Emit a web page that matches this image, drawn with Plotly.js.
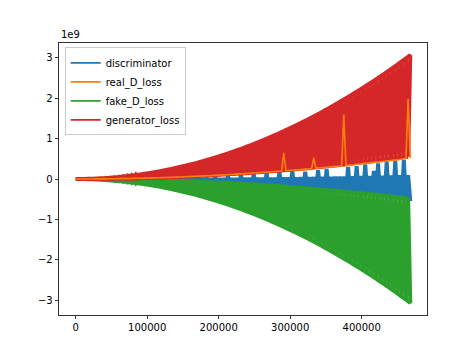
<!DOCTYPE html>
<html><head><meta charset="utf-8">
<script src="https://cdn.plot.ly/plotly-3.0.1.min.js"></script>
<style>html,body{margin:0;padding:0;background:#fff}#chart{width:474px;height:355px}</style>
</head><body><div id="chart"></div>
<script>
// iteration step between logged samples
const stepSize = 3000;

// values in units of 1e9 (each series swings between a low and a high every sample)
const discriminator = [0, 0, 0, 0, 0, 0, -0.001, 0, -0.001, 0,
 -0.002, 0, -0.003, 0.001, -0.004, 0.001, -0.006, 0.001, -0.007, 0.001,
 -0.009, 0.002, -0.011, 0.002, -0.013, 0.003, -0.015, 0.003, -0.018, 0.003,
 -0.02, 0.004, -0.023, 0.004, -0.026, 0.005, -0.029, 0.006, -0.032, 0.006,
 -0.036, 0.007, -0.04, 0.008, -0.044, 0.008, -0.048, 0.009, -0.052, 0.01,
 -0.056, 0.011, -0.061, 0.012, -0.066, 0.012, -0.071, 0.013, -0.076, 0.014,
 -0.081, 0.03, -0.086, 0.016, -0.092, 0.05, -0.098, 0.018, -0.104, 0.02,
 -0.11, 0.07, -0.117, 0.022, -0.123, 0.023, -0.13, 0.1, -0.137, 0.026,
 -0.144, 0.027, -0.151, 0.12, -0.159, 0.03, -0.166, 0.031, -0.174, 0.14,
 -0.182, 0.034, -0.19, 0.035, -0.199, 0.17, -0.207, 0.039, -0.216, 0.04,
 -0.225, 0.19, -0.234, 0.043, -0.243, 0.045, -0.253, 0.18, -0.262, 0.049,
 -0.272, 0.051, -0.282, 0.22, -0.292, 0.054, -0.303, 0.25, -0.313, 0.058,
 -0.324, 0.06, -0.335, 0.062, -0.346, 0.064, -0.357, 0.3, -0.369, 0.068,
 -0.38, 0.32, -0.392, 0.073, -0.404, 0.36, -0.416, 0.077, -0.428, 0.2,
 -0.441, 0.39, -0.454, 0.084, -0.467, 0.43, -0.48, 0.089, -0.493, 0.45,
 -0.506, 0.093, -0.52, 0.47, -0.534, 0.098, -0.548];

const realDLoss = [0, 0, 0, 0, 0, 0.001, 0.001, 0.001, 0.001, 0.002,
 0.002, 0.003, 0.003, 0.004, 0.004, 0.005, 0.005, 0.006, 0.007, 0.008,
 0.009, 0.009, 0.01, 0.011, 0.012, 0.013, 0.014, 0.016, 0.017, 0.018,
 0.019, 0.02, 0.022, 0.023, 0.025, 0.026, 0.028, 0.029, 0.031, 0.032,
 0.034, 0.036, 0.038, 0.039, 0.041, 0.043, 0.045, 0.047, 0.049, 0.051,
 0.053, 0.055, 0.058, 0.06, 0.062, 0.064, 0.067, 0.069, 0.072, 0.074,
 0.077, 0.079, 0.082, 0.084, 0.087, 0.09, 0.093, 0.096, 0.098, 0.101,
 0.104, 0.107, 0.11, 0.113, 0.117, 0.12, 0.123, 0.126, 0.129, 0.133,
 0.136, 0.14, 0.143, 0.147, 0.15, 0.154, 0.157, 0.161, 0.165, 0.169,
 0.172, 0.176, 0.18, 0.184, 0.188, 0.192, 0.196, 0.65, 0.204, 0.209,
 0.213, 0.217, 0.221, 0.226, 0.23, 0.235, 0.239, 0.244, 0.248, 0.253,
 0.257, 0.53, 0.267, 0.272, 0.277, 0.281, 0.286, 0.291, 0.296, 0.301,
 0.306, 0.312, 0.317, 0.322, 0.327, 1.6, 0.338, 0.343, 0.349, 0.354,
 0.36, 0.365, 0.371, 0.376, 0.382, 0.388, 0.394, 0.399, 0.405, 0.411,
 0.417, 0.423, 0.429, 0.435, 0.441, 0.447, 0.454, 0.46, 0.466, 0.472,
 0.479, 0.485, 0.492, 0.498, 0.505, 1.98, 0.518];

const fakeDLoss = [0, 0, -0.001, 0, -0.002, -0.001, -0.005, -0.001, -0.008, -0.002,
 -0.013, -0.002, -0.018, -0.003, -0.025, -0.005, -0.032, -0.006, -0.041, -0.007,
 -0.05, -0.009, -0.061, -0.011, -0.073, -0.013, -0.085, -0.015, -0.099, -0.017,
 -0.113, -0.019, -0.129, -0.022, -0.146, -0.025, -0.163, -0.027, -0.182, -0.03,
 -0.202, -0.034, -0.222, -0.037, -0.244, -0.041, -0.267, -0.044, -0.29, -0.048,
 -0.315, -0.052, -0.341, -0.056, -0.367, -0.061, -0.395, -0.065, -0.424, -0.07,
 -0.454, -0.074, -0.484, -0.079, -0.516, -0.085, -0.549, -0.09, -0.583, -0.095,
 -0.617, -0.101, -0.653, -0.107, -0.69, -0.113, -0.728, -0.119, -0.767, -0.125,
 -0.807, -0.131, -0.847, -0.138, -0.889, -0.145, -0.932, -0.151, -0.976, -0.158,
 -1.021, -0.166, -1.067, -0.173, -1.114, -0.181, -1.161, -0.188, -1.21, -0.196,
 -1.26, -0.204, -1.311, -0.212, -1.363, -0.221, -1.416, -0.229, -1.47, -0.238,
 -1.525, -0.246, -1.581, -0.255, -1.638, -0.265, -1.696, -0.274, -1.755, -0.283,
 -1.815, -0.293, -1.876, -0.303, -1.938, -0.313, -2.001, -0.323, -2.065, -0.333,
 -2.13, -0.343, -2.196, -0.354, -2.263, -0.365, -2.331, -0.375, -2.4, -0.386,
 -2.47, -0.398, -2.541, -0.409, -2.613, -0.42, -2.686, -0.432, -2.76, -0.444,
 -2.835, -0.456, -2.912, -0.468, -2.989, -0.481, -3.067];

const generatorLoss = [0, 0, 0.001, 0, 0.002, 0.001, 0.005, 0.001, 0.008, 0.002,
 0.013, 0.003, 0.018, 0.004, 0.025, 0.005, 0.032, 0.007, 0.041, 0.008,
 0.05, 0.01, 0.061, 0.012, 0.073, 0.014, 0.085, 0.017, 0.099, 0.019,
 0.113, 0.022, 0.129, 0.025, 0.146, 0.028, 0.163, 0.031, 0.182, 0.035,
 0.202, 0.039, 0.222, 0.042, 0.244, 0.047, 0.267, 0.051, 0.29, 0.055,
 0.315, 0.06, 0.341, 0.065, 0.367, 0.07, 0.395, 0.075, 0.424, 0.08,
 0.454, 0.086, 0.484, 0.091, 0.516, 0.097, 0.549, 0.103, 0.583, 0.109,
 0.617, 0.116, 0.653, 0.122, 0.69, 0.129, 0.728, 0.136, 0.767, 0.143,
 0.807, 0.151, 0.847, 0.158, 0.889, 0.166, 0.932, 0.174, 0.976, 0.182,
 1.021, 0.19, 1.067, 0.199, 1.114, 0.207, 1.161, 0.216, 1.21, 0.225,
 1.26, 0.234, 1.311, 0.244, 1.363, 0.253, 1.416, 0.263, 1.47, 0.273,
 1.525, 0.283, 1.581, 0.293, 1.638, 0.304, 1.696, 0.315, 1.755, 0.325,
 1.815, 0.336, 1.876, 0.348, 1.938, 0.359, 2.001, 0.371, 2.065, 0.382,
 2.13, 0.394, 2.196, 0.406, 2.263, 0.419, 2.331, 0.431, 2.4, 0.444,
 2.47, 0.457, 2.541, 0.47, 2.613, 0.483, 2.686, 0.497, 2.76, 0.51,
 2.835, 0.524, 2.912, 0.538, 2.989, 0.552, 3.067];

const seriesNames = ['discriminator', 'real_D_loss', 'fake_D_loss', 'generator_loss'];
const seriesColors = ['#1f77b4', '#ff7f0e', '#2ca02c', '#d62728'];
const xTickVals = [0, 100000, 200000, 300000, 400000];
const xTickText = ['0', '100000', '200000', '300000', '400000'];
const yTickVals = [-3, -2, -1, 0, 1, 2, 3];
const yTickText = ['\u22123', '\u22122', '\u22121', '0', '1', '2', '3'];

const steps = discriminator.map((_, i) => i * stepSize);

// path order: every sample in sequence, then back along the even samples and forward along
// the odd samples so that the outer edges of the dense swing are traced as well
function sampleOrder(n, withEdges) {
  const idx = Array.from({length: n}, (_, i) => i);
  if (!withEdges) return idx;
  const evens = idx.filter(i => i % 2 === 0).reverse();
  const odds = idx.filter(i => i % 2 === 1);
  return idx.concat(evens, odds);
}
function lineTrace(vals, color, width, withEdges) {
  const order = sampleOrder(vals.length, withEdges);
  return {
    type: 'scatter', mode: 'lines',
    x: order.map(i => steps[i]), y: order.map(i => vals[i]),
    line: {color: color, width: width, simplify: false},
    showlegend: false, hoverinfo: 'skip'
  };
}

const traces = [
  lineTrace(discriminator, seriesColors[0], 4, false),
  lineTrace(fakeDLoss, seriesColors[2], 4, true),
  lineTrace(generatorLoss, seriesColors[3], 4, true),
  lineTrace(realDLoss, seriesColors[1], 1.6, false)
];
seriesNames.forEach((name, k) => {
  traces.push({
    type: 'scatter', mode: 'lines', x: [null], y: [null], name: name,
    line: {color: seriesColors[k], width: 1.6}, showlegend: true
  });
});

const axisStyle = {
  showline: true, mirror: true, linecolor: '#000', linewidth: 0.8,
  ticks: 'outside', ticklen: 3.5, tickwidth: 0.8, tickcolor: '#000',
  showgrid: false, zeroline: false,
  tickfont: {family: 'DejaVu Sans', size: 10, color: '#000'}
};

const layout = {
  width: 474, height: 355,
  margin: {l: 59, r: 47, t: 43, b: 40, pad: 0},
  paper_bgcolor: '#fff', plot_bgcolor: '#fff',
  font: {family: 'DejaVu Sans', size: 10, color: '#000'},
  xaxis: Object.assign({range: [-23400, 491400], tickvals: xTickVals, ticktext: xTickText}, axisStyle),
  yaxis: Object.assign({range: [-3.37, 3.37], tickvals: yTickVals, ticktext: yTickText}, axisStyle),
  legend: {
    x: 0.0155, y: 0.984, xanchor: 'left', yanchor: 'top',
    bgcolor: 'rgba(255,255,255,0.8)', bordercolor: '#cccccc', borderwidth: 1,
    font: {family: 'DejaVu Sans', size: 10, color: '#000'},
    itemwidth: 30, tracegroupgap: 0
  },
  annotations: [{
    xref: 'paper', yref: 'paper', x: 0, y: 1, xanchor: 'left', yanchor: 'bottom',
    text: '1e9', showarrow: false, yshift: 1,
    font: {family: 'DejaVu Sans', size: 10, color: '#000'}
  }],
  showlegend: true
};

Plotly.newPlot('chart', traces, layout, {staticPlot: true, displayModeBar: false});
</script>
</body></html>
